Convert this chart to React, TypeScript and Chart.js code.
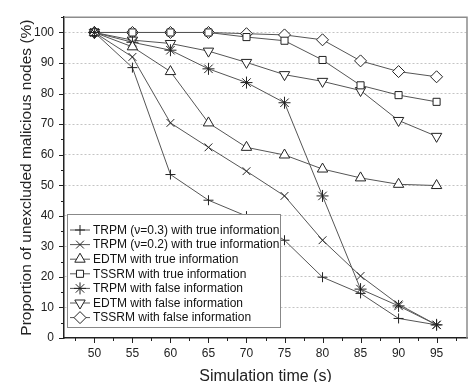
import React, { useEffect, useRef } from 'react';
import { Chart, registerables } from 'chart.js';
import { drawPoint } from 'chart.js/helpers';

Chart.register(...registerables);

const times = [50, 55, 60, 65, 70, 75, 80, 85, 90, 95];
const trpm03True = [100, 88.5, 53.5, 45.1, 39.9, 32, 19.9, 14.6, 6.4, 4.3];
const trpm02True = [100, 92, 70.4, 62.4, 54.6, 46.5, 32, 20.3, 11, 4.3];
const edtmTrue = [100, 95.3, 87.2, 70.4, 62.4, 59.9, 55.3, 52.4, 50.3, 49.9];
const tssrmTrue = [100, 100, 100, 100, 98.5, 97.3, 91, 82.7, 79.5, 77.3];
const trpmFalse = [100, 96.8, 94.2, 88.1, 83.6, 77, 46.5, 16, 10.5, 4.3];
const edtmFalse = [100, 97.5, 96.4, 93.9, 90.2, 86.2, 84, 81, 71.2, 66];
const tssrmFalse = [100, 100, 100, 100, 99.6, 99.2, 97.6, 90.7, 87.2, 85.5];

const seriesNames = [
  'TRPM (\u03bd=0.3) with true information',
  'TRPM (\u03bd=0.2) with true information',
  'EDTM with true information',
  'TSSRM with true information',
  'TRPM with false information',
  'EDTM with false information',
  'TSSRM with false information',
];
const seriesValues = [trpm03True, trpm02True, edtmTrue, tssrmTrue, trpmFalse, edtmFalse, tssrmFalse];
const markerStyles = ['cross', 'crossRot', 'triangle', 'rect', 'star', 'triangle', 'rectRot'];
const markerRotations = [0, 0, 0, 0, 0, 180, 0];
const markerRadius = [5, 5.5, 6, 5, 6, 6, 6];

const FONT = "'Liberation Sans', Arial, sans-serif";

const decorPlugin = {
  id: 'decor',
  afterDraw(chart: any) {
    const { ctx, chartArea, scales } = chart;
    const { left, right, top, bottom } = chartArea;
    const x = scales.x;
    const y = scales.y;
    ctx.save();
    ctx.strokeStyle = '#8c8c8c';
    ctx.lineWidth = 1.5;
    ctx.beginPath();
    ctx.moveTo(left, top);
    ctx.lineTo(right, top);
    ctx.lineTo(right, bottom);
    ctx.stroke();
    ctx.strokeStyle = '#222';
    ctx.lineWidth = 1;
    ctx.beginPath();
    y.ticks.forEach((t: any) => {
      const py = Math.round(y.getPixelForValue(t.value)) + 0.5;
      const len = t.value % 10 === 0 ? 5 : 3;
      ctx.moveTo(left - len, py);
      ctx.lineTo(left, py);
    });
    x.ticks.forEach((t: any) => {
      const px = Math.round(x.getPixelForValue(t.value)) + 0.5;
      const len = t.value % 5 === 0 ? 5 : 3;
      ctx.moveTo(px, bottom);
      ctx.lineTo(px, bottom + len);
    });
    ctx.stroke();
    const bx = 67.5, by = 214.5, bw = 213, bh = 113;
    ctx.fillStyle = '#fff';
    ctx.fillRect(bx, by, bw, bh);
    ctx.strokeStyle = '#888';
    ctx.lineWidth = 1;
    ctx.strokeRect(bx, by, bw, bh);
    ctx.font = `12px ${FONT}`;
    ctx.textBaseline = 'middle';
    ctx.textAlign = 'left';
    chart.data.datasets.forEach((ds: any, i: number) => {
      const ry = 230 + i * 14.6;
      ctx.strokeStyle = '#555';
      ctx.lineWidth = 1;
      ctx.beginPath();
      ctx.moveTo(70, ry);
      ctx.lineTo(90, ry);
      ctx.stroke();
      ctx.fillStyle = '#fff';
      ctx.strokeStyle = '#222';
      drawPoint(ctx, { pointStyle: ds.pointStyle, rotation: ds.pointRotation, radius: ds.pointRadius, borderWidth: 1 }, 80, ry);
      ctx.fillStyle = '#111';
      ctx.fillText(ds.label, 93, ry + 0.5);
    });
    ctx.restore();
  },
};

export default function App() {
  const ref = useRef<HTMLCanvasElement | null>(null);
  useEffect(() => {
    document.body.style.margin = '0';
    const canvas = ref.current;
    if (!canvas) return;
    const chart = new Chart(canvas, {
      type: 'line',
      data: {
        datasets: seriesValues.map((vals, i) => ({
          label: seriesNames[i],
          data: times.map((t, j) => ({ x: t, y: vals[j] })),
          borderColor: '#555',
          borderWidth: 1,
          pointStyle: markerStyles[i] as any,
          pointRotation: markerRotations[i],
          pointRadius: markerRadius[i],
          pointBorderColor: '#222',
          pointBackgroundColor: '#fff',
          pointBorderWidth: 1,
          tension: 0,
          fill: false,
        })),
      },
      options: {
        animation: false,
        responsive: false,
        events: [],
        layout: { padding: { left: 0, top: 11, right: 5, bottom: 0 } },
        plugins: {
          legend: { display: false },
          tooltip: { enabled: false },
        },
        scales: {
          x: {
            type: 'linear',
            min: 46,
            max: 99,
            afterFit: (s: any) => { s.height = 44; },
            ticks: {
              stepSize: 2.5,
              includeBounds: false,
              autoSkip: false,
              maxRotation: 0,
              padding: 8,
              color: '#222',
              font: { family: FONT, size: 12 },
              callback: (v: any) => (Number(v) % 5 === 0 ? String(v) : ''),
            },
            grid: { display: false, drawTicks: false },
            border: { display: true, color: '#222', width: 1.5 },
            title: {
              display: true,
              text: 'Simulation time (s)',
              color: '#222',
              font: { family: FONT, size: 16, lineHeight: 0.7 },
              padding: 0,
            },
          },
          y: {
            min: 0,
            max: 105,
            afterFit: (s: any) => { s.width = 64; },
            ticks: {
              stepSize: 5,
              autoSkip: false,
              padding: 10,
              color: '#222',
              font: { family: FONT, size: 12 },
              callback: (v: any) => (Number(v) % 10 === 0 ? String(v) : ''),
            },
            grid: {
              drawTicks: false,
              color: (c: any) => (c.tick && c.tick.value % 10 === 0 && c.tick.value > 0 ? '#c4c4c4' : 'rgba(0,0,0,0)'),
              lineWidth: 1,
            },
            border: { display: true, color: '#222', width: 1.5, dash: [2, 2] },
            title: {
              display: true,
              text: 'Proportion of unexcluded malicious nodes (%)',
              color: '#222',
              font: { family: FONT, size: 15.5, lineHeight: 1.2 },
              padding: { top: 17, bottom: 0 },
            },
          },
        },
      },
      plugins: [decorPlugin],
    });
    return () => chart.destroy();
  }, []);
  return (
    <div style={{ width: 474, height: 382 }}>
      <canvas ref={ref} width={474} height={382} />
    </div>
  );
}
